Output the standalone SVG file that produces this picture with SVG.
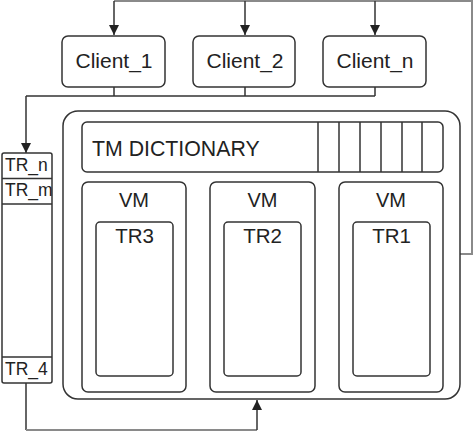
<svg xmlns="http://www.w3.org/2000/svg" width="474" height="431" viewBox="0 0 474 431">
<style>
.box{fill:#fff;stroke:#333;stroke-width:1.5}
.ln{fill:none;stroke:#333;stroke-width:1.5}
.edge{fill:none;stroke:#8a8a8a;stroke-width:2}
text{font-family:"Liberation Sans",Arial,sans-serif;fill:#222}
.c{font-size:21px;text-anchor:middle}
.t{font-size:17.5px}
</style>
<defs>
<marker id="ah" viewBox="0 0 10 14" refX="10" refY="7" markerWidth="10" markerHeight="14" markerUnits="userSpaceOnUse" orient="auto">
<path d="M0,2 L10,7 L0,12 z" fill="#222"/>
</marker>
</defs>
<rect width="474" height="431" fill="#fff"/>
<g id="connectors">
<path class="edge" d="M114,1 H472 V254 H460"/>
<path class="ln" d="M114,1 V35" marker-end="url(#ah)"/>
<path class="ln" d="M245,1 V35" marker-end="url(#ah)"/>
<path class="ln" d="M375,1 V35" marker-end="url(#ah)"/>
<path class="ln" d="M114,87 V96 M245,87 V96 M375,87 V96 M375,96 H26"/>
<path class="ln" d="M26,96 V153" marker-end="url(#ah)"/>
<path class="ln" d="M26,383 V430"/>
<path class="edge" d="M26,430 H257"/>
<path class="ln" d="M257,430 V400" marker-end="url(#ah)"/>
</g>
<g id="client1"><rect class="box" x="62" y="36" width="103" height="51" rx="6"/><text class="c" x="114" y="68">Client_1</text></g>
<g id="client2"><rect class="box" x="193" y="36" width="102" height="51" rx="6"/><text class="c" x="245" y="68">Client_2</text></g>
<g id="clientn"><rect class="box" x="323" y="36" width="103" height="51" rx="6"/><text class="c" x="375" y="68">Client_n</text></g>
<g id="tr-queue">
<rect class="box" x="2" y="153" width="50" height="230" rx="2"/>
<path class="ln" d="M2,178.5 H52 M2,204 H52 M2,357 H52"/>
<text class="t" x="5" y="171">TR_n</text>
<text class="t" x="5" y="196">TR_m</text>
<text class="t" x="5" y="375">TR_4</text>
</g>
<g id="server">
<rect class="box" x="63" y="111" width="397" height="288" rx="15"/>
</g>
<g id="tm-dictionary">
<rect class="box" x="82" y="122" width="361" height="50" rx="5"/>
<path class="ln" d="M318,122 V172 M339,122 V172 M360,122 V172 M381,122 V172 M402,122 V172 M422,122 V172"/>
<text x="92" y="156" style="font-size:21.3px">TM DICTIONARY</text>
</g>
<g id="vm1">
<rect class="box" x="82" y="182" width="104" height="210" rx="6"/>
<text class="c" x="134" y="207" style="font-size:20px">VM</text>
</g>
<g id="tr3"><rect class="box" x="96" y="222" width="77" height="154" rx="4"/><text class="c" x="134.5" y="243" style="font-size:20.5px">TR3</text></g>
<g id="vm2">
<rect class="box" x="210" y="182" width="105" height="210" rx="6"/>
<text class="c" x="262.5" y="207" style="font-size:20px">VM</text>
</g>
<g id="tr2"><rect class="box" x="224" y="222" width="77" height="154" rx="4"/><text class="c" x="262.5" y="243" style="font-size:20.5px">TR2</text></g>
<g id="vm3">
<rect class="box" x="339" y="182" width="104" height="210" rx="6"/>
<text class="c" x="391" y="207" style="font-size:20px">VM</text>
</g>
<g id="tr1"><rect class="box" x="353" y="222" width="77" height="154" rx="4"/><text class="c" x="391.5" y="243" style="font-size:20.5px">TR1</text></g>
</svg>
